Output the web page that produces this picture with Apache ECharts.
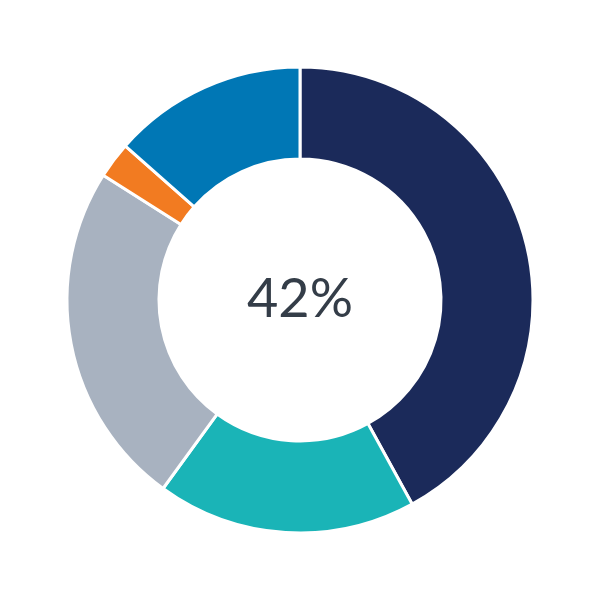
<!DOCTYPE html>
<html>
<head>
<meta charset="utf-8">
<script src="https://cdn.jsdelivr.net/npm/echarts@6/dist/echarts.min.js"></script>
<style>html,body{margin:0;padding:0;background:#fff;}#c{width:600px;height:600px;}</style>
</head>
<body>
<div id="c"></div>
<script>
const categories = ['Navy', 'Teal', 'Gray', 'Orange', 'Blue'];
const values = [42, 18, 24, 2.5, 13.5];
const colors = ['#1b2a5a', '#1ab4b7', '#a8b2c0', '#f27b21', '#0077b5'];
const centerLabel = '42%';

const chart = echarts.init(document.getElementById('c'));
chart.setOption({
  animation: false,
  title: {
    text: centerLabel,
    left: 'center',
    top: 'middle',
    textStyle: { fontFamily: 'Lato', fontSize: 54, fontWeight: 'normal', color: '#343d48' }
  },
  series: [{
    type: 'pie',
    center: [300, 300],
    radius: [141, 233],
    startAngle: 90,
    clockwise: true,
    label: { show: false },
    labelLine: { show: false },
    itemStyle: { borderColor: '#fff', borderWidth: 3 },
    data: categories.map((n, i) => ({ name: n, value: values[i], itemStyle: { color: colors[i] } }))
  }]
});
</script>
</body>
</html>
